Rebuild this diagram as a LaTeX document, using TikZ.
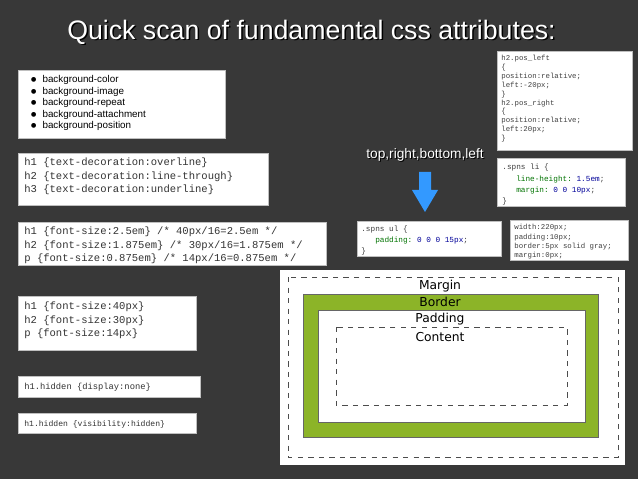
\documentclass[tikz,border=0pt]{standalone}
\usepackage{fontspec}
\setmainfont{Liberation Sans}
\setmonofont{Liberation Mono}
\newfontfamily\dvs{DejaVu Sans}
\definecolor{bordergreen}{RGB}{140,180,40}
\begin{document}
\begin{tikzpicture}[x=0.02cm,y=-0.02cm,
  card/.style={fill=white,draw=gray!50,line width=0.4pt},
  code/.style={font=\ttfamily\fontsize{6}{7.6}\selectfont,align=left,anchor=north west,inner sep=0pt,text=black!80},
  small/.style={font=\ttfamily\fontsize{4.2}{5.3}\selectfont,align=left,anchor=north west,inner sep=0pt,text=black!75},
  lbl/.style={font=\dvs\fontsize{7}{8}\selectfont,inner sep=0pt}]
\fill[black!78] (0,0) rectangle (638,479);
\useasboundingbox (0,0) rectangle (638,479);
\node[font=\fontsize{15.2}{18}\selectfont,text=black] (ts) at (313,33.5) {Quick scan of fundamental css attributes:};
\node[font=\fontsize{15.2}{18}\selectfont,text=white] (title) at (311.5,32) {Quick scan of fundamental css attributes:};
% list
\draw[card] (18,70) rectangle (225,138);
\node[anchor=north west,inner sep=0pt,font=\fontsize{5.6}{6.6}\selectfont,align=left] (list) at (30,75)
 {$\bullet$\ \ background-color\\$\bullet$\ \ background-image\\$\bullet$\ \ background-repeat\\$\bullet$\ \ background-attachment\\$\bullet$\ \ background-position};
\draw[card] (18,153) rectangle (268,205);
\node[code] (td) at (24,158) {h1 \{text-decoration:overline\}\\h2 \{text-decoration:line-through\}\\h3 \{text-decoration:underline\}};
\draw[card] (18,222) rectangle (326,265);
\node[code] (em) at (24,227) {h1 \{font-size:2.5em\} /* 40px/16=2.5em */\\h2 \{font-size:1.875em\} /* 30px/16=1.875em */\\p \{font-size:0.875em\} /* 14px/16=0.875em */};
\draw[card] (18,296) rectangle (196,350);
\node[code] (px) at (24,302) {h1 \{font-size:40px\}\\h2 \{font-size:30px\}\\p \{font-size:14px\}};
\draw[card] (18,376) rectangle (200,397);
\node[code,font=\ttfamily\fontsize{5}{6}\selectfont] (dn) at (24,383) {h1.hidden \{display:none\}};
\draw[card] (18,413) rectangle (196,433);
\node[code,font=\ttfamily\fontsize{4.6}{6}\selectfont] (vh) at (24,420) {h1.hidden \{visibility:hidden\}};
\draw[card] (497,51) rectangle (632,150);
\node[small,font=\ttfamily\fontsize{4.2}{5.05}\selectfont] (pos) at (501,55) {h2.pos\_left\\\{\\position:relative;\\left:-20px;\\\}\\h2.pos\_right\\\{\\position:relative;\\left:20px;\\\}};
\draw[card] (497,158) rectangle (625,206);
\node[small,font=\ttfamily\fontsize{4.4}{6.4}\selectfont] (li) at (502,164) {.spns li \{\\\ \ \ \textcolor{green!45!black}{line-height:} \textcolor{blue!60!black}{1.5em};\\\ \ \ \textcolor{green!45!black}{margin:} \textcolor{blue!60!black}{0 0 10px};\\\}};
\draw[card] (510,220) rectangle (628,260);
\node[small] (wd) at (514,224) {width:220px;\\padding:10px;\\border:5px solid gray;\\margin:0px;};
\draw[card] (357,221) rectangle (501,256);
\node[small,font=\ttfamily\fontsize{4.4}{6.2}\selectfont] (ul) at (361,226) {.spns ul \{\\\ \ \ \textcolor{green!45!black}{padding:} \textcolor{blue!60!black}{0 0 0 15px};\\\}};
\node[font=\fontsize{7.8}{9}\selectfont,text=black] at (426,156) {top,right,bottom,left};
\node[font=\fontsize{7.8}{9}\selectfont,text=white] (trbl) at (425,155) {top,right,bottom,left};
\fill[blue!50!cyan!80!white] (419,172) -- (431,172) -- (431,190) -- (438,190) -- (425,212) -- (412,190) -- (419,190) -- cycle;
% box model
\fill[white] (280,270) rectangle (625,465);
\draw[dashed,black!70] (288,277) rectangle (618,457);
\fill[bordergreen] (303,294) rectangle (598,437);
\draw[black!60,line width=0.3pt] (303,294) rectangle (598,437);
\fill[white] (318,310) rectangle (585,422);
\draw[black!60,line width=0.3pt] (318,310) rectangle (585,422);
\draw[dashed,black!70] (336,327) rectangle (567,405);
\node[lbl] (mg) at (440,286) {Margin};
\node[lbl] (bd) at (440,302) {Border};
\node[lbl] (pd) at (440,319) {Padding};
\node[lbl] (ct) at (440,337) {Content};
\end{tikzpicture}
\end{document}
